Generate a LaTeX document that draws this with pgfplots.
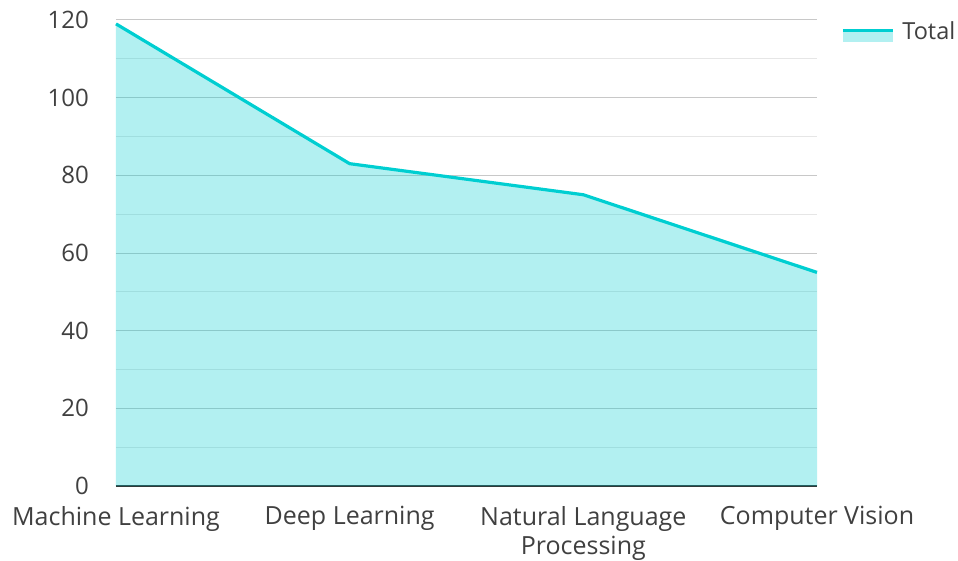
\documentclass[border=0pt]{standalone}
\usepackage{pgfplots}
\pgfplotsset{compat=1.18}
\usepackage{fontspec}
\setmainfont{Open Sans}
\definecolor{cline}{HTML}{00CED1}
\definecolor{ctext}{HTML}{404040}
\definecolor{cmajor}{HTML}{C8C8C8}
\definecolor{cminor}{HTML}{E6E6E6}
\definecolor{caxis}{HTML}{333333}
\begin{document}
\begin{tikzpicture}
\useasboundingbox (-116pt,-74pt) rectangle (842pt,486pt);
\begin{axis}[
  at={(0pt,0pt)}, anchor=south west,
  scale only axis, width=701pt, height=466pt,
  xmin=0, xmax=3, ymin=0, ymax=120,
  axis x line=bottom, axis y line=left,
  x axis line style={caxis, line width=1.5pt, -},
  y axis line style={draw=none},
  xtick=data,
  xticklabels={Machine Learning, Deep Learning, Natural Language\\Processing, Computer Vision},
  ytick={0,20,...,120},
  minor ytick={10,30,...,110},
  ymajorgrids, yminorgrids,
  major grid style={cmajor, line width=1pt},
  minor grid style={cminor, line width=1pt},
  tick style={draw=none},
  major tick length=0pt, minor tick length=0pt,
  /pgf/number format/assume math mode=true,
  every tick label/.append style={text=ctext},
  xticklabel style={font=\fontsize{25}{29}\selectfont, align=center, inner sep=0pt, anchor=north, yshift=-20pt},
  yticklabel style={font=\fontsize{24}{29}\selectfont, inner sep=0pt, anchor=east, xshift=-27pt},
  clip=false,
  legend style={draw=none, fill=none, at={(rel axis cs:1,1)}, anchor=north west,
    xshift=24pt, yshift=-1pt, inner sep=0pt,
    font=\fontsize{23.5}{29}\selectfont, text=ctext,
    nodes={inner sep=0pt}, column sep=0pt},
  legend cell align=left,
]
\addplot[draw=none, fill=cline, fill opacity=0.3, forget plot]
  coordinates {(0,119) (1,83) (2,75) (3,55)} \closedcycle;
\addplot[cline, line width=3.2pt, line join=round,
  legend image code/.code={
    \path[draw=none, fill=cline, fill opacity=0.3] (0pt,-11pt) rectangle (50pt,0pt);
    \draw[cline, line width=3.2pt] (0pt,0pt) -- (50pt,0pt);
    \path (58pt,0pt);
  }]
  coordinates {(0,119) (1,83) (2,75) (3,55)};
\addlegendentry{Total}
\end{axis}
\end{tikzpicture}
\end{document}
